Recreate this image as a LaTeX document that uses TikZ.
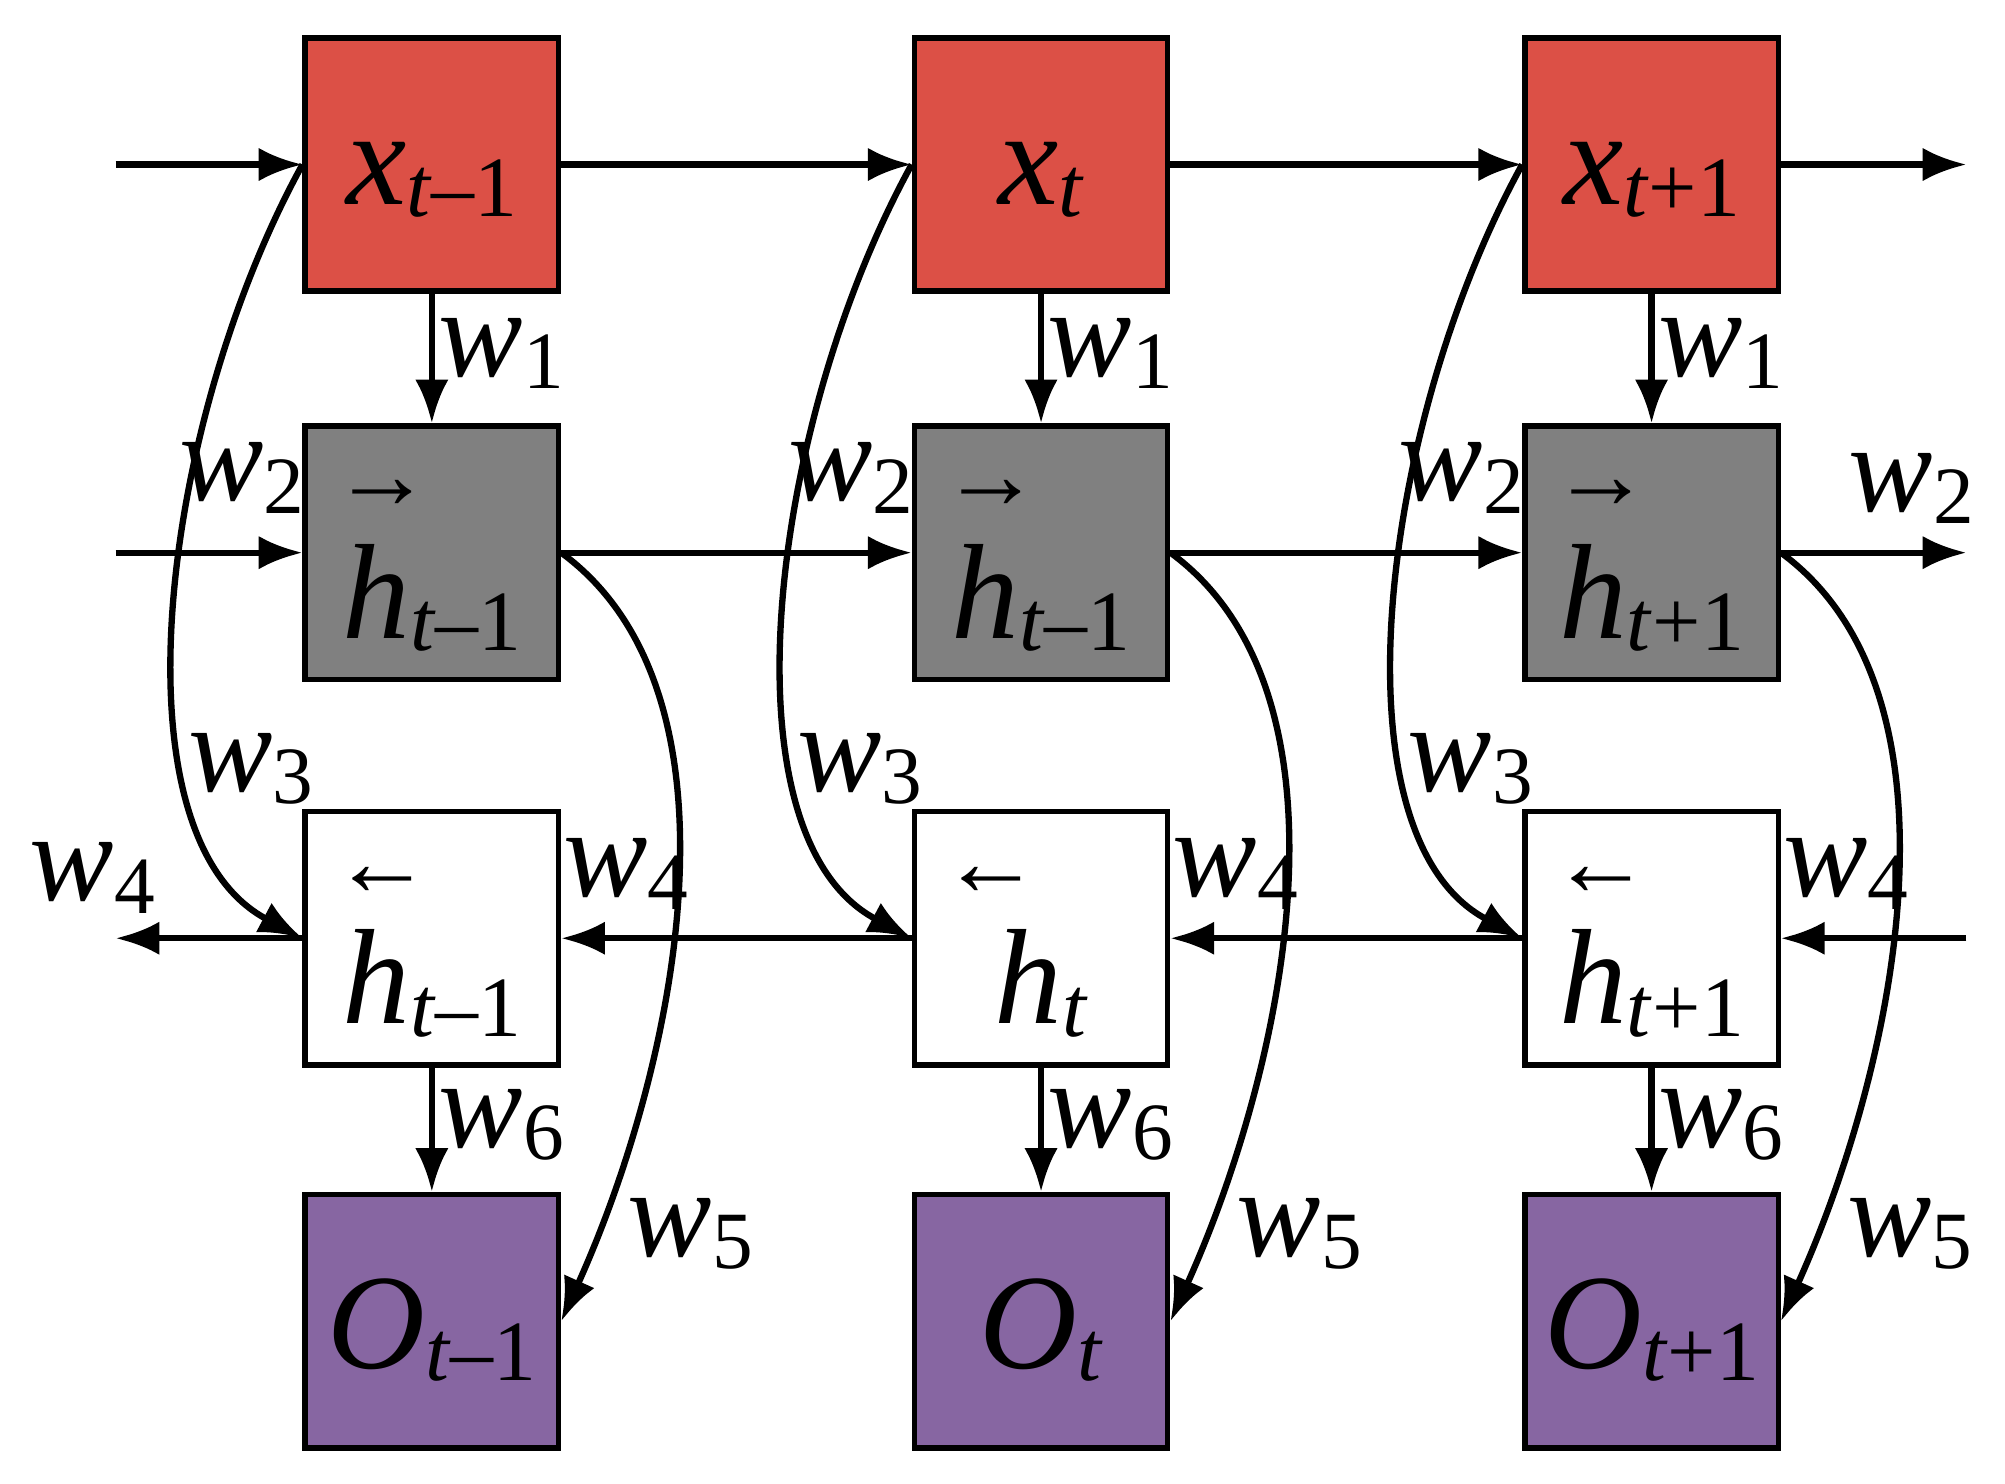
\documentclass[tikz,border=0pt]{standalone}
\usepackage{fontspec}
\setmainfont{Liberation Serif}
\usetikzlibrary{arrows.meta}
\definecolor{cx}{HTML}{DC5046}
\definecolor{ch}{HTML}{808080}
\definecolor{co}{HTML}{8766A2}
\newcommand{\mylab}[2]{{\fontsize{30}{30}\selectfont\itshape #1}\raisebox{-0.6ex}{\fontsize{19}{19}\selectfont #2}}
\newcommand{\mywl}[1]{{\fontsize{28}{28}\selectfont\itshape w}\raisebox{-0.6ex}{\fontsize{18}{18}\selectfont #1}}
\begin{document}
\begin{tikzpicture}[x=0.01cm,y=-0.01cm,
  box/.style={draw,line width=1.2pt,minimum size=1.97cm,inner sep=0pt},
  ar/.style={line width=1.4pt,-{Latex[length=3.4mm,width=2.6mm]}},
  lb/.style={inner sep=0pt},
  ov/.style={inner sep=0pt,font=\fontsize{22}{22}\selectfont}]
\useasboundingbox (0,0) rectangle (1560,1154);
\foreach \c/\xx in {a/336,b/810,c/1285}{
  \node[box,fill=cx] (x\c) at (\xx,128) {};
  \node[box,fill=ch] (f\c) at (\xx,430) {};
  \node[box,fill=white] (g\c) at (\xx,730) {};
  \node[box,fill=co] (o\c) at (\xx,1028) {};
}
% texts
\node[lb] at (336,140) {\mylab{x}{\textit{t}–1}};
\node[lb] at (810,140) {\mylab{x}{\textit{t}}};
\node[lb] at (1285,140) {\mylab{x}{\textit{t}+1}};
\node[lb] at (336,465) {\mylab{h}{\textit{t}–1}};
\node[lb] at (810,465) {\mylab{h}{\textit{t}–1}};
\node[lb] at (1285,465) {\mylab{h}{\textit{t}+1}};
\node[lb] at (336,765) {\mylab{h}{\textit{t}–1}};
\node[lb] at (810,765) {\mylab{h}{\textit{t}}};
\node[lb] at (1285,765) {\mylab{h}{\textit{t}+1}};
\foreach \xx in {297,771,1246}{
  \node[ov] at (\xx,385) {→};
  \node[ov] at (\xx,686) {←};
}
\node[lb] at (336,1035) {\mylab{O}{\textit{t}–1}};
\node[lb] at (810,1035) {\mylab{O}{\textit{t}}};
\node[lb] at (1285,1035) {\mylab{O}{\textit{t}+1}};
% coordinates
\coordinate (xin) at (90,128); \coordinate (xout) at (1530,128);
\coordinate (fin) at (90,430); \coordinate (fout) at (1530,430);
\coordinate (gin) at (1530,730); \coordinate (gout) at (90,730);
\draw[ar] (xin) -- (xa.west);
\draw[ar] (xa.east) -- (xb.west);
\draw[ar] (xb.east) -- (xc.west);
\draw[ar] (xc.east) -- (xout);
\draw[ar] (fin) -- (fa.west);
\draw[ar] (fa.east) -- (fb.west);
\draw[ar] (fb.east) -- (fc.west);
\draw[ar] (fc.east) -- (fout);
\draw[ar] (gin) -- (gc.east);
\draw[ar] (gc.west) -- (gb.east);
\draw[ar] (gb.west) -- (ga.east);
\draw[ar] (ga.west) -- (gout);
\foreach \c in {a,b,c}{
  \draw[ar] (x\c.south) -- (f\c.north);
  \draw[ar] (g\c.south) -- (o\c.north);
  \draw[ar] (x\c.west) .. controls ++(-110,200) and ++(-150,-80) .. (g\c.west);
  \draw[ar] (f\c.east) .. controls ++(150,110) and ++(90,-200) .. (o\c.east);
}
% labels
\foreach \dx in {0,474,949}{
  \node[lb] at (390+\dx,275) {\mywl{1}};
  \node[lb] at (390+\dx,875) {\mywl{6}};
  \node[lb] at (188+\dx,372) {\mywl{2}};
  \node[lb] at (195+\dx,598) {\mywl{3}};
  \node[lb] at (537+\dx,960) {\mywl{5}};
  \node[lb] at (487+\dx,680) {\mywl{4}};
}
\node[lb] at (72,683) {\mywl{4}};
\node[lb] at (1487,380) {\mywl{2}};
\end{tikzpicture}
\end{document}
